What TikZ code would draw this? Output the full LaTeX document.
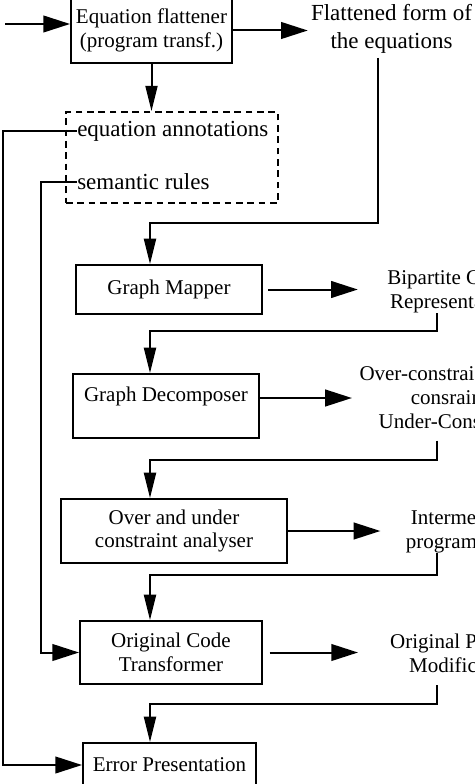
\documentclass[tikz,border=0pt]{standalone}
\usepackage{fontspec}
\setmainfont{Liberation Serif}
\usetikzlibrary{arrows.meta}
\usetikzlibrary{positioning}
\usetikzlibrary{calc}
\newcommand\boxfont{\fontsize{15.75}{17.6}\selectfont}
\newcommand\bigfont{\fontsize{17.25}{21}\selectfont}
\newcommand\sidefont{\fontsize{15.75}{18}\selectfont}

\begin{document}
\begin{tikzpicture}[x=0.75pt, y=-0.75pt,
  block/.style={draw, line width=1.5pt, align=center, font=\boxfont, inner sep=0pt},
  dashblock/.style={draw, line width=1.3pt, dash pattern=on 5pt off 3.5pt, minimum width=159pt, minimum height=68.25pt},
  sidetext/.style={align=center, font=\sidefont, inner sep=0pt},
  conn/.style={line width=1.5pt},
  harrow/.style={conn, -{Triangle[length=20pt,width=12.5pt]}},
  varrow/.style={conn, -{Triangle[length=19pt,width=9pt]}}]
\clip (0,0) rectangle (474,784);

\node[block, minimum width=120.75pt, minimum height=48.75pt] (eqflat) at (151.5,30.5) {Equation flattener\\(program transf.)};
\node[align=center, font=\bigfont, inner sep=0pt] (flatform) at (391.5,29) {Flattened form of\\the equations};
\node[dashblock] (dash) at (172,157.5) {};
\node[anchor=west, font=\bigfont, inner sep=0pt] (annot) at (77,131) {equation annotations};
\node[anchor=west, font=\bigfont, inner sep=0pt] (sem) at (77,182) {semantic rules};

\node[block, minimum width=139.5pt, minimum height=36.75pt] (gmap) at (169,289.5) {Graph Mapper};
\node[sidetext] (bip) at (453,291.5) {Bipartite Graph\\Representation};
\node[block, minimum width=139.5pt, minimum height=48pt, text height=11pt, text depth=18.5pt] (gdecomp) at (166,406) {Graph Decomposer};
\node[sidetext] (ovc) at (452,397) {Over-constraint, well-\\consraint,\\Under-Constraint};
\node[block, minimum width=169.5pt, minimum height=48pt] (ana) at (174,531) {Over and under\\constraint analyser};
\node[sidetext] (interm) at (464,531.5) {Intermediate\\program code};
\node[block, minimum width=136.5pt, minimum height=47.25pt] (ocode) at (171,652.5) {Original Code\\Transformer};
\node[sidetext] (origmod) at (464,653.5) {Original Program\\Modification};
\node[block, minimum width=129.75pt, minimum height=33pt] (errpres) at (169.5,765) {Error Presentation};

\coordinate (start) at (5,24);
\coordinate (lcol) at (150,0);
\coordinate (rcol) at (437,0);
\coordinate (lx) at (3,400);
\coordinate (sx) at (41,400);

\draw[harrow] (start) -- (start -| eqflat.west);
\draw[harrow, shorten >=2.25pt] (eqflat.east) -- (eqflat.east -| flatform.west);
\draw[varrow] (eqflat.south) -- (eqflat.south |- dash.north);
\draw[varrow, shorten <=3pt] ([xshift=-10pt]flatform.south) -- ++(0,169) -| (gmap.north -| lcol);

\draw[harrow, shorten <=4pt, shorten >=22pt] (gmap.east) -- (gmap.east -| bip.west);
\draw[varrow] (bip.south -| rcol) -- ++(0,18) -| (gdecomp.north -| lcol);
\draw[harrow, shorten >=5.5pt] ([yshift=6pt]gdecomp.east) -- ([yshift=6pt]gdecomp.east -| ovc.west);
\draw[varrow, shorten <=9pt] (ovc.south -| rcol) -- ++(0,31) -| (ana.north -| lcol);
\draw[harrow, shorten >=19pt] (ana.east) -- (ana.east -| interm.west);
\draw[varrow] (interm.south -| rcol) -- ++(0,22) -| (ocode.north -| lcol);
\draw[harrow, shorten <=5pt, shorten >=24pt] (ocode.east) -- (ocode.east -| origmod.west);
\draw[varrow, shorten <=9pt] (origmod.south -| rcol) -- ++(0,31) -| (errpres.north -| lcol);

\draw[harrow] (annot.west) -| (lx) |- (errpres.west);
\draw[harrow] (sem.west) -| (sx) |- (ocode.west);
\end{tikzpicture}
\end{document}
